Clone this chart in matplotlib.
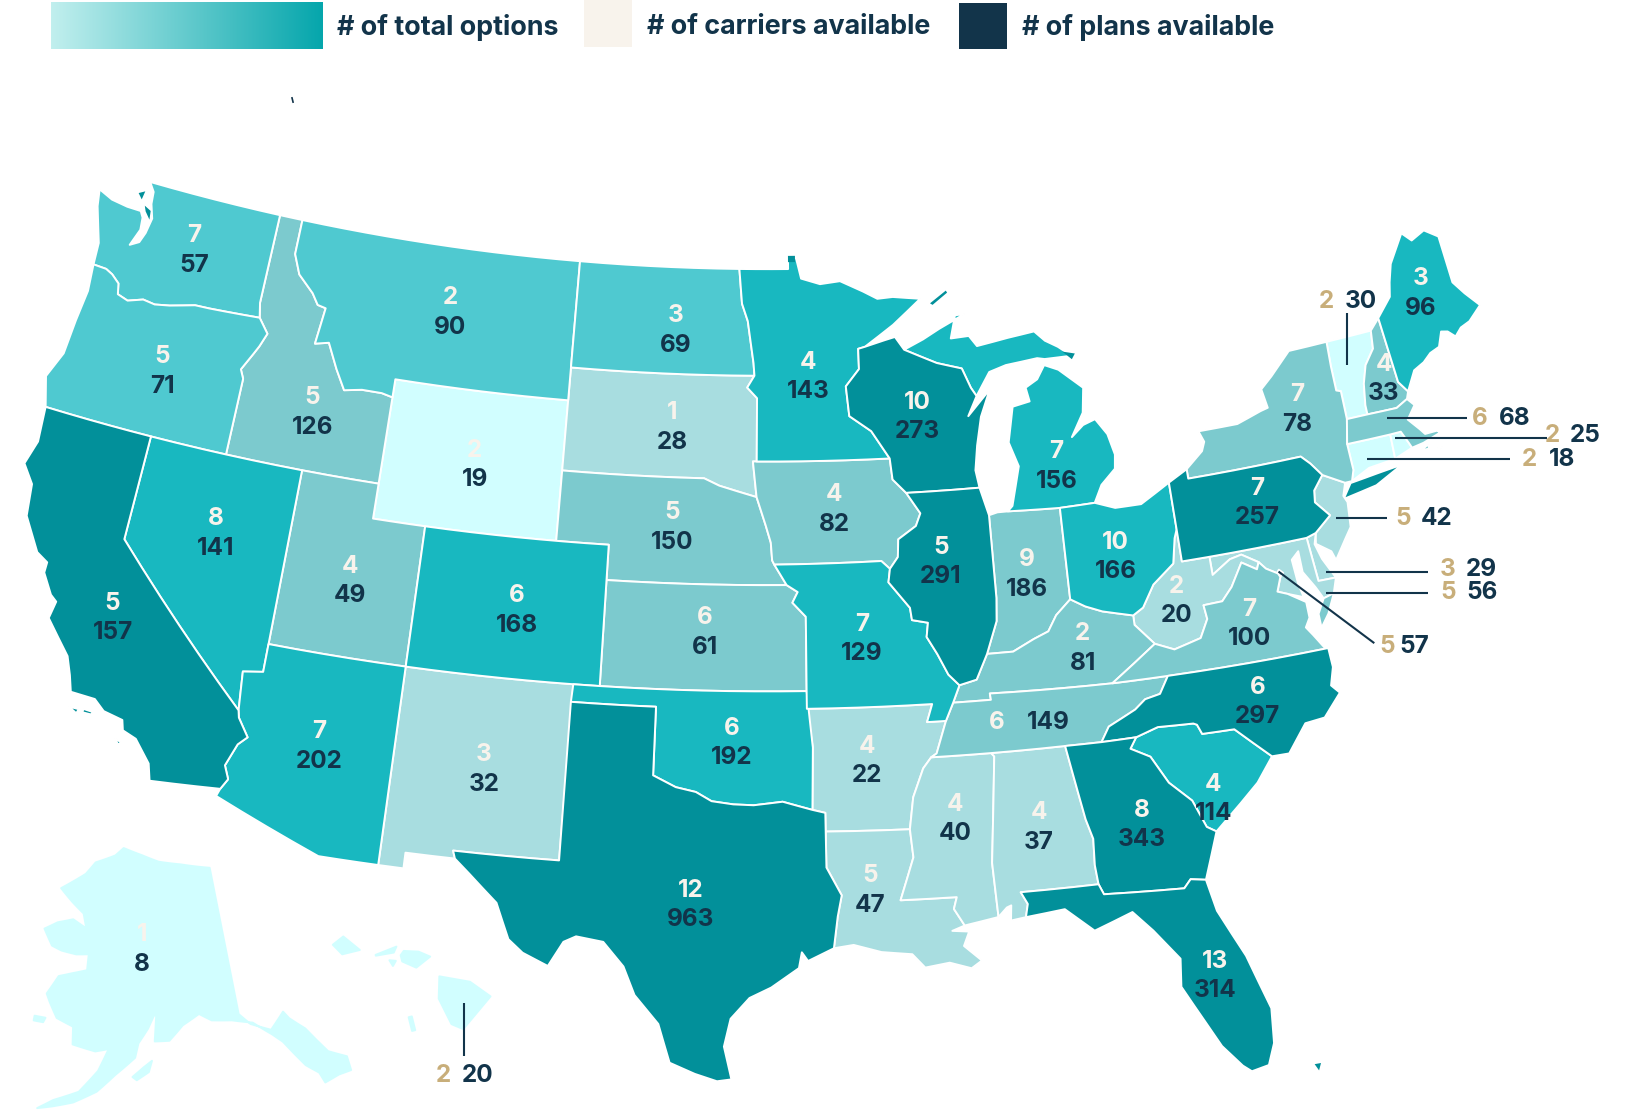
#!/usr/bin/env python
import numpy as np
import matplotlib
matplotlib.use('Agg')
import matplotlib.pyplot as plt
from matplotlib.colors import LinearSegmentedColormap

plt.rcParams['font.family'] = ['Inter', 'DejaVu Sans']

# shared borders, lon/lat
COLUMBIA = [(-124.05,46.27),(-123.5,46.25),(-123.2,46.15),(-122.85,45.95),(-122.75,45.65),(-122.3,45.55),(-121.7,45.7),(-121.2,45.65),(-120.6,45.73),(-119.6,45.92),(-119.0,45.93),(-116.92,46.0)]
SNAKE = [(-116.92,46.0),(-116.47,45.6),(-116.68,45.2),(-116.85,44.95),(-117.2,44.45),(-117.03,44.2),(-117.03,42.0)]
BITTERROOT = [(-116.05,49.0),(-116.05,48.0),(-115.7,47.45),(-115.0,47.0),(-114.7,46.7),(-114.35,46.65),(-114.5,45.6),(-113.95,45.7),(-113.45,45.0),(-113.0,44.45),(-112.3,44.55),(-111.5,44.55),(-111.05,44.48)]
COLORADO_R = [(-114.63,35.0),(-114.57,34.8),(-114.14,34.3),(-114.43,34.05),(-114.72,33.4),(-114.52,33.03),(-114.72,32.72)]
RED_R = [(-100.0,34.56),(-99.2,34.25),(-98.5,34.13),(-97.95,33.88),(-97.2,33.8),(-96.5,33.78),(-95.5,33.88),(-94.48,33.64)]
SABINE = [(-94.04,33.02),(-94.04,32.0),(-93.55,31.2),(-93.7,30.6),(-93.85,29.7)]
RED_N = [(-97.23,49.0),(-97.1,48.0),(-96.85,47.5),(-96.6,46.3),(-96.56,45.94)]
MISSOURI_R = [(-96.45,42.49),(-96.1,41.7),(-95.9,41.2),(-95.85,40.7),(-95.77,40.58)]
MS_UPPER = [(-91.22,43.5),(-91.15,42.9),(-90.65,42.5),(-90.15,41.9),(-90.35,41.55),(-91.05,41.2),(-91.1,40.7),(-91.42,40.38)]
MS_MID = [(-91.42,40.38),(-91.5,40.0),(-90.75,39.25),(-90.7,38.9),(-90.12,38.8),(-90.2,38.4),(-89.85,37.9),(-89.5,37.3),(-89.13,36.98)]
MS_TN = [(-89.4,36.5),(-89.7,36.0),(-90.1,35.1),(-90.3,35.0)]
MS_LOW = [(-90.3,35.0),(-90.6,34.7),(-91.0,33.9),(-91.17,33.0),(-91.1,32.2),(-91.6,31.0)]
OHIO_R = [(-89.13,36.98),(-88.5,37.1),(-88.05,37.8),(-87.1,37.8),(-86.3,38.1),(-85.75,38.27),(-85.4,38.7),(-84.82,39.1),(-84.3,38.85),(-83.7,38.65),(-82.6,38.42),(-82.2,38.6),(-81.7,39.2),(-80.85,39.7),(-80.65,40.4),(-80.52,40.64)]
POTOMAC = [(-79.48,39.2),(-78.75,39.55),(-78.3,39.62),(-77.72,39.32),(-77.5,39.1),(-77.1,38.9),(-77.04,38.79),(-77.25,38.4),(-76.9,38.28)]
WV_VA = [(-81.97,37.54),(-81.3,37.3),(-80.3,37.5),(-79.95,38.0),(-80.0,38.4),(-79.3,38.42),(-78.87,38.77),(-78.35,39.4),(-77.83,39.13),(-77.72,39.32)]
NC_TN = [(-81.68,36.59),(-82.05,36.12),(-82.6,36.03),(-83.0,35.78),(-84.0,35.4),(-84.32,34.99)]
SAVANNAH = [(-83.1,35.0),(-83.35,34.7),(-82.7,34.4),(-82.2,33.6),(-81.5,33.0),(-81.15,32.2),(-80.85,32.03)]
NC_SC = [(-83.1,35.0),(-82.3,35.2),(-81.05,35.15),(-80.93,35.1),(-80.8,34.82),(-79.67,34.8),(-78.55,33.86)]
AL_GA = [(-85.6,35.0),(-85.18,32.87),(-85.0,32.3),(-85.05,31.55),(-85.0,31.0)]
WI_MN = [(-92.01,46.71),(-92.29,46.66),(-92.29,46.08),(-92.85,45.6),(-92.75,44.75),(-91.9,44.3),(-91.22,43.5)]
WI_UP = [(-90.4,46.57),(-89.1,46.13),(-88.1,45.92),(-87.8,45.35),(-87.6,45.1)]
CT_RIVER = [(-71.5,45.01),(-71.6,44.5),(-72.05,44.1),(-72.3,43.6),(-72.45,43.0),(-72.46,42.73)]
NY_VT = [(-73.34,45.01),(-73.4,44.3),(-73.42,43.6),(-73.25,43.55),(-73.28,42.74)]
DELAWARE_R = [(-75.35,42.0),(-75.05,41.75),(-74.7,41.36),(-75.13,40.98),(-75.2,40.65),(-74.75,40.2),(-75.42,39.8)]

WA = [(-117.03,49.0),(-122.76,49.0),(-122.5,48.75),(-122.45,48.4),(-122.25,48.0),(-122.35,47.55),(-122.5,47.25),(-122.85,47.1),(-122.6,47.6),(-122.65,47.95),(-122.8,48.12),(-123.4,48.13),(-124.1,48.2),(-124.73,48.38),(-124.6,47.9),(-124.3,47.3),(-124.1,46.9)] + COLUMBIA + [(-117.04,46.42)]
OR = COLUMBIA[::-1] + [(-123.95,45.5),(-124.07,44.6),(-124.15,43.6),(-124.55,42.84),(-124.21,42.0)] + SNAKE[::-1]
CA = [(-124.21,42.0),(-120.0,42.0),(-120.0,39.0)] + COLORADO_R + [(-117.12,32.53),(-117.28,33.0),(-117.9,33.6),(-118.4,33.75),(-118.5,34.03),(-119.2,34.15),(-119.6,34.42),(-120.47,34.45),(-120.65,34.9),(-120.9,35.4),(-121.9,36.3),(-121.8,36.8),(-122.05,36.95),(-122.5,37.5),(-122.5,37.8),(-122.95,38.0),(-123.7,38.9),(-123.85,39.8),(-124.35,40.3),(-124.1,41.0)]
CA_ISLES = [[(-119.9,34.07),(-119.55,34.05),(-119.6,33.97),(-119.9,33.97)],[(-118.6,33.48),(-118.35,33.4),(-118.45,33.33)],[(-120.4,34.03),(-120.05,34.03),(-120.1,33.9)]]
NV = [(-120.0,42.0),(-114.04,42.0),(-114.04,36.2),(-114.75,36.1),(-114.63,35.0),(-120.0,39.0)]
ID = [(-117.03,49.0)] + BITTERROOT + [(-111.05,42.0)] + SNAKE[::-1] + [(-117.04,46.42)]
MT = BITTERROOT[::-1] + [(-104.05,49.0),(-104.05,45.0),(-111.05,45.0)]
WY = [(-111.05,45.0),(-104.05,45.0),(-104.05,41.0),(-111.05,41.0)]
UT = [(-114.04,42.0),(-111.05,42.0),(-111.05,41.0),(-109.05,41.0),(-109.05,37.0),(-114.04,37.0)]
CO = [(-109.05,41.0),(-102.05,41.0),(-102.05,37.0),(-109.05,37.0)]
AZ = [(-114.04,37.0),(-109.05,37.0),(-109.05,31.33),(-111.07,31.33),(-114.81,32.5)] + COLORADO_R[::-1] + [(-114.75,36.1),(-114.04,36.2)]
NM = [(-109.05,37.0),(-103.0,37.0),(-103.04,32.0),(-106.62,32.0),(-106.53,31.78),(-108.2,31.78),(-108.2,31.33),(-109.05,31.33)]
ND = [(-104.05,49.0)] + RED_N + [(-104.05,45.94)]
SD = [(-104.05,45.94),(-96.56,45.94),(-96.85,45.6),(-96.45,45.3),(-96.45,43.5),(-96.6,43.5),(-96.45,42.49),(-97.9,42.8),(-98.5,43.0),(-104.05,43.0)]
NE = [(-104.05,43.0),(-98.5,43.0),(-97.9,42.8)] + MISSOURI_R + [(-95.31,40.0),(-102.05,40.0),(-102.05,41.0),(-104.05,41.0)]
KS = [(-102.05,40.0),(-95.31,40.0),(-94.9,39.8),(-95.1,39.5),(-94.61,39.1),(-94.62,37.0),(-102.05,37.0)]
OK = [(-103.0,37.0),(-94.62,37.0),(-94.43,35.4)] + RED_R[::-1] + [(-100.0,36.5),(-103.04,36.5)]
TX = [(-106.62,32.0),(-103.04,32.0),(-103.04,36.5),(-100.0,36.5)] + RED_R + [(-94.04,33.55)] + SABINE + [(-94.7,29.35),(-94.9,29.6),(-95.0,29.15),(-95.9,28.6),(-96.6,28.3),(-97.2,27.7),(-97.4,26.9),(-97.15,25.96),(-97.6,25.9),(-98.3,26.1),(-99.1,26.4),(-99.5,27.5),(-100.3,28.3),(-100.7,29.1),(-101.4,29.77),(-102.3,29.88),(-102.7,29.7),(-103.15,28.98),(-104.0,29.3),(-104.5,29.65),(-105.0,30.65),(-106.0,31.4),(-106.53,31.78)]
MN = [(-97.23,49.0),(-95.15,49.0),(-95.15,49.38),(-94.8,49.3),(-94.6,48.72),(-93.8,48.55),(-92.95,48.62),(-92.0,48.3),(-91.4,48.07),(-90.75,48.1),(-89.6,48.0),(-90.8,47.3)] + WI_MN + [(-96.45,43.5),(-96.45,45.3),(-96.85,45.6),(-96.56,45.94),(-96.6,46.3),(-96.85,47.5),(-97.1,48.0)]
IA = [(-96.45,43.5)] + MS_UPPER + [(-91.73,40.61),(-95.77,40.58)] + MISSOURI_R[::-1][1:] + [(-96.6,43.5)]
MO = [(-95.77,40.58),(-91.73,40.61)] + MS_MID + MS_TN[:2] + [(-90.37,36.0),(-90.15,36.5),(-94.62,36.5),(-94.62,37.0),(-94.61,39.1),(-95.1,39.5),(-94.9,39.8),(-95.31,40.0)]
AR = [(-94.62,36.5),(-90.15,36.5),(-90.37,36.0),(-89.7,36.0)] + MS_TN[2:] + MS_LOW[1:4] + [(-94.04,33.02),(-94.04,33.55),(-94.48,33.64),(-94.43,35.4)]
LA = [(-94.04,33.02)] + MS_LOW[3:] + [(-89.73,31.0),(-89.85,30.67),(-89.53,30.18),(-89.95,30.05),(-89.4,30.0),(-89.6,29.6),(-89.05,29.15),(-89.4,28.95),(-90.1,29.15),(-90.9,29.05),(-91.3,29.45),(-91.8,29.5),(-92.3,29.55),(-93.2,29.78)] + SABINE[::-1]
MS = MS_LOW + [(-89.73,31.0),(-89.85,30.67),(-89.53,30.18),(-88.4,30.35),(-88.47,31.9),(-88.1,34.9),(-88.2,35.0)]
AL = [(-88.2,35.0)] + AL_GA + [(-87.6,31.0),(-87.4,30.65),(-87.5,30.28),(-88.0,30.22),(-87.95,30.65),(-88.1,30.6),(-88.4,30.35),(-88.47,31.9),(-88.1,34.9)]
TN = MS_TN + [(-88.2,35.0),(-85.6,35.0)] + NC_TN[::-1] + [(-83.68,36.6),(-88.07,36.68),(-88.05,36.5)]
KY = [(-89.4,36.5)] + OHIO_R[:11] + [(-82.6,38.15),(-81.97,37.54),(-83.68,36.6),(-88.07,36.68),(-88.05,36.5)]
IL = MS_UPPER[::-1][:6] + [(-87.8,42.5),(-87.53,41.7),(-87.53,39.35),(-87.6,38.7)] + OHIO_R[2::-1] + MS_MID[::-1][1:]
WI = [(-92.01,46.71),(-91.2,46.87),(-90.75,46.95)] + WI_UP + [(-88.0,44.55),(-87.05,45.25),(-87.5,44.5),(-87.75,43.7),(-87.9,43.0),(-87.8,42.5),(-90.65,42.5),(-91.15,42.9)] + WI_MN[::-1][:-1]
IN = [(-87.53,41.7),(-87.2,41.76),(-86.8,41.76),(-84.8,41.7)] + OHIO_R[7:1:-1] + [(-87.6,38.7),(-87.53,39.35)]
OH = [(-84.8,41.7),(-83.45,41.72),(-82.7,41.5),(-81.7,41.5),(-80.52,41.98)] + OHIO_R[:6:-1]
MI_L = [(-86.8,41.76),(-84.8,41.7),(-83.45,41.72),(-83.1,42.2),(-82.5,42.6),(-82.42,43.0),(-82.6,43.6),(-83.0,44.07),(-83.5,43.95),(-84.0,43.65),(-83.45,44.3),(-83.3,45.0),(-84.2,45.6),(-84.75,45.78),(-85.1,45.4),(-85.6,45.2),(-85.5,44.8),(-86.2,44.7),(-86.5,43.7),(-86.2,43.0),(-86.6,41.9)]
MI_U = WI_UP + [(-87.0,45.75),(-86.3,45.9),(-85.0,46.0),(-84.7,45.95),(-83.6,45.95),(-84.1,46.25),(-84.6,46.47),(-85.0,46.77),(-86.1,46.67),(-87.4,46.52),(-87.7,46.83),(-88.45,46.8),(-88.2,47.45),(-87.8,47.47),(-88.9,47.1),(-89.6,46.83)]
PA = [(-80.52,41.98),(-79.76,42.27),(-79.76,42.0)] + DELAWARE_R + [(-75.79,39.72),(-80.52,39.72),(-80.52,40.64)]
NY = [(-79.76,42.27),(-79.05,42.7),(-78.9,42.95),(-79.05,43.27),(-77.5,43.27),(-76.5,43.5),(-76.2,43.55),(-76.3,44.1),(-75.8,44.4),(-74.9,45.0)] + NY_VT + [(-73.5,42.05),(-73.5,41.3),(-73.65,41.0),(-73.92,41.0),(-74.7,41.36),(-75.05,41.75),(-75.35,42.0),(-79.76,42.0)]
NJ = [(-74.7,41.36),(-73.92,41.0),(-74.1,40.65),(-74.0,40.45),(-74.1,39.75),(-74.4,39.45),(-74.9,38.93),(-75.0,39.2),(-75.5,39.5),(-75.42,39.8),(-74.75,40.2),(-75.2,40.65),(-75.13,40.98)]
VT = NY_VT[:1] + CT_RIVER + NY_VT[:0:-1]
NH = [(-71.5,45.01),(-71.08,45.3),(-70.98,43.4),(-70.7,43.07),(-70.82,42.87),(-71.3,42.7)] + CT_RIVER[::-1][:-1]
ME = [(-71.08,45.3),(-70.4,45.8),(-70.25,46.2),(-70.0,46.7),(-69.23,47.46),(-68.9,47.18),(-68.3,47.36),(-67.79,47.07),(-67.79,45.7),(-67.45,45.3),(-67.0,44.85),(-67.6,44.5),(-68.0,44.4),(-68.3,44.2),(-68.55,44.4),(-68.8,44.45),(-69.05,44.05),(-69.45,43.95),(-69.8,43.75),(-70.25,43.6),(-70.7,43.07),(-70.98,43.4)]
MA = [(-73.5,42.05),(-73.28,42.74),(-72.46,42.73),(-71.3,42.7),(-70.82,42.87),(-70.6,42.65),(-71.0,42.3),(-70.65,41.95),(-70.5,41.78),(-70.0,41.78),(-70.2,42.08),(-69.95,41.7),(-70.65,41.55),(-71.12,41.5),(-71.2,41.67),(-71.38,42.02),(-71.8,42.02)]
MA_ISLES = [[(-70.8,41.36),(-70.5,41.47),(-70.5,41.35)],[(-70.2,41.3),(-70.0,41.3),(-70.05,41.24)]]
RI = [(-71.8,42.02),(-71.38,42.02),(-71.2,41.67),(-71.12,41.5),(-71.85,41.32)]
CT = [(-73.5,42.05),(-71.8,42.02),(-71.85,41.32),(-72.9,41.25),(-73.65,41.0),(-73.5,41.3)]
DE = [(-75.79,39.72),(-75.42,39.8),(-75.55,39.5),(-75.4,39.05),(-75.05,38.45),(-75.7,38.46)]
MD = [(-79.48,39.72),(-75.79,39.72),(-75.7,38.46),(-75.05,38.45),(-75.25,38.03),(-75.65,37.95),(-75.85,38.3),(-76.2,38.8),(-76.2,39.4),(-76.5,39.2),(-76.45,38.5),(-76.35,38.1)] + POTOMAC[::-1]
DC = [(-77.12,38.93),(-77.04,39.0),(-76.91,38.89),(-77.04,38.79)]
VA = [(-83.68,36.6)] + WV_VA + POTOMAC[4:] + [(-76.3,37.95),(-76.3,37.5),(-76.5,37.25),(-76.3,37.0),(-75.97,36.55),(-81.68,36.59)]
VA_SHORE = [(-75.65,37.95),(-75.25,38.03),(-75.6,37.5),(-75.95,37.15),(-75.95,37.55)]
WV = [(-82.6,38.42),(-82.2,38.6),(-81.7,39.2),(-80.85,39.7),(-80.65,40.4),(-80.52,40.64),(-80.52,39.72),(-79.48,39.72)] + POTOMAC[:3] + WV_VA[::-1] + [(-82.6,38.15)]
NC = NC_TN + NC_SC + [(-77.95,33.85),(-77.2,34.6),(-76.5,34.65),(-75.8,35.25),(-76.05,35.5),(-75.85,36.0),(-75.87,36.55)]
SC = NC_SC + [(-79.2,33.2),(-79.9,32.7)] + SAVANNAH[::-1]
GA = [(-85.6,35.0),(-84.32,34.99)] + SAVANNAH + [(-81.45,30.72),(-81.95,30.8),(-82.2,30.57),(-84.86,30.7)] + AL_GA[:0:-1]
FL = [(-87.6,31.0),(-85.0,31.0),(-84.86,30.7),(-82.2,30.57),(-81.95,30.8),(-81.45,30.72),(-81.25,29.8),(-80.55,28.4),(-80.03,26.8),(-80.13,25.8),(-80.4,25.2),(-80.95,25.1),(-81.2,25.3),(-81.75,25.95),(-82.15,26.7),(-82.75,27.8),(-82.65,28.6),(-83.4,29.5),(-84.0,30.1),(-85.3,29.7),(-86.2,30.4),(-87.5,30.28),(-87.4,30.65)]
AK = [(-141.0,69.65),(-141.0,60.3),(-139.8,59.55),(-137.5,58.9),(-135.5,59.8),(-135.0,59.3),(-133.5,58.4),(-131.8,56.6),(-130.0,55.9),(-130.1,55.0),(-131.5,55.0),(-133.2,54.8),(-133.5,55.5),(-134.7,56.2),(-136.5,58.0),(-137.5,58.6),(-139.5,59.6),(-142.0,60.0),(-144.5,60.2),(-146.0,60.7),(-148.2,60.1),(-150.0,59.2),(-151.8,59.2),(-151.5,60.8),(-149.9,61.25),(-151.8,60.8),(-152.6,60.0),(-153.8,59.1),(-154.2,58.2),(-156.5,57.1),(-158.5,56.0),(-161.0,55.2),(-163.2,54.8),(-164.8,54.55),(-163.2,55.2),(-160.5,55.9),(-158.5,57.3),(-157.4,58.7),(-159.0,58.5),(-161.8,58.8),(-162.0,59.9),(-164.2,60.3),(-165.4,61.2),(-166.0,61.7),(-164.8,62.9),(-163.0,63.2),(-161.0,63.5),(-161.0,64.5),(-162.8,64.4),(-165.0,64.5),(-166.5,64.7),(-168.1,65.65),(-166.3,66.2),(-164.0,66.55),(-161.8,66.1),(-162.5,67.0),(-164.5,67.6),(-166.8,68.35),(-165.0,68.9),(-163.0,69.5),(-161.5,70.3),(-158.0,70.85),(-156.5,71.35),(-153.0,70.9),(-150.0,70.45),(-146.0,70.15)]
AK_ISLES = [[(-154.5,57.0),(-153.2,57.6),(-152.2,58.0),(-152.6,57.3),(-154.0,56.8)],[(-167.0,60.2),(-165.6,60.2),(-165.8,59.9),(-167.0,59.9)]]
HI = [(-155.9,20.25),(-155.2,19.95),(-154.8,19.5),(-155.65,18.92),(-155.9,19.1),(-156.05,19.75)]
HI_ISLES = [[(-156.7,20.95),(-156.6,21.03),(-156.25,20.93),(-156.0,20.75),(-156.4,20.58),(-156.7,20.8)],[(-157.3,21.1),(-156.75,21.17),(-156.85,21.05),(-157.3,21.08)],[(-158.27,21.57),(-157.97,21.7),(-157.65,21.3),(-158.1,21.3)],[(-157.0,20.9),(-156.85,20.85),(-156.95,20.75)],[(-156.88,19.5),(-156.8,19.5),(-156.8,19.17),(-156.88,19.17)]]
# small islands that the source leaves in the darkest shade
LONG_ISLAND = [(-74.03,40.6),(-72.8,40.75),(-71.87,41.07),(-72.6,41.02),(-73.7,40.93)]
ISLE_ROYALE = [(-89.2,47.85),(-88.5,48.18),(-88.45,48.12),(-89.1,47.8)]
SAN_JUAN = [(-123.1,48.6),(-122.85,48.7),(-122.9,48.45)]
WHIDBEY = [(-122.7,48.3),(-122.4,48.2),(-122.35,47.95),(-122.6,48.15)]
NW_ANGLE = [(-95.15,49.38),(-94.85,49.38),(-94.85,49.2),(-95.15,49.2)]
DRUMMOND = [(-83.95,46.1),(-83.45,46.0),(-83.6,45.85)]
FAR_KEY = [(-79.0,25.0),(-78.8,25.0),(-78.9,24.8)]

# values
SHADES = ['#D1FEFF', '#A8DDE0', '#7CCACE', '#4FC9D0', '#18B8C0', '#02909A']
SHADE_GROUPS = [
    ['WY', 'VT', 'CT', 'RI', 'AK', 'HI'],
    ['SD', 'NM', 'AR', 'LA', 'MS', 'AL', 'NJ', 'DE', 'MD', 'DC', 'WV'],
    ['ID', 'UT', 'NE', 'KS', 'IA', 'IN', 'KY', 'TN', 'VA', 'NY', 'NH', 'MA'],
    ['WA', 'OR', 'MT', 'ND'],
    ['NV', 'CO', 'AZ', 'OK', 'MO', 'MN', 'MI', 'OH', 'SC', 'ME'],
    ['CA', 'TX', 'WI', 'IL', 'PA', 'NC', 'GA', 'FL'],
]
OUTLINES = {'WA': [WA], 'OR': [OR], 'CA': [CA] + CA_ISLES, 'NV': [NV], 'ID': [ID], 'MT': [MT], 'WY': [WY], 'UT': [UT], 'CO': [CO], 'AZ': [AZ], 'NM': [NM],
            'ND': [ND], 'SD': [SD], 'NE': [NE], 'KS': [KS], 'OK': [OK], 'TX': [TX], 'MN': [MN], 'IA': [IA], 'MO': [MO], 'AR': [AR], 'LA': [LA], 'MS': [MS],
            'AL': [AL], 'TN': [TN], 'KY': [KY], 'IL': [IL], 'WI': [WI], 'IN': [IN], 'OH': [OH], 'MI': [MI_L, MI_U], 'PA': [PA], 'NY': [NY], 'NJ': [NJ], 'VT': [VT],
            'NH': [NH], 'ME': [ME], 'MA': [MA] + MA_ISLES, 'RI': [RI], 'CT': [CT], 'DE': [DE], 'MD': [MD], 'DC': [DC], 'VA': [VA, VA_SHORE], 'WV': [WV], 'NC': [NC], 'SC': [SC],
            'GA': [GA], 'FL': [FL], 'AK': [AK] + AK_ISLES, 'HI': [HI] + HI_ISLES}

IN_CARRIERS = [7, 5, 5, 8, 5, 2, 2, 4, 6, 7, 3, 3, 1, 5, 6, 6, 12, 4, 4, 7, 4, 5, 10, 5, 7, 9, 10, 2, 4, 4, 8, 13, 4, 6, 7, 2, 7, 7, 3, 4, 1]
IN_PLANS = [57, 71, 157, 141, 126, 90, 19, 49, 168, 202, 32, 69, 28, 150, 61, 192, 963, 143, 82, 129, 22, 47, 273, 291, 156, 186, 166, 81, 40, 37, 343, 314, 114, 297, 100, 20, 257, 78, 96, 33, 8]
IN_X = [185, 154, 107, 205, 297, 428, 451, 333, 491, 303, 460, 642, 639, 639, 670, 695, 656, 768, 793, 819, 824, 827, 872, 894, 1004, 976, 1060, 1029, 908, 987, 1085, 1155, 1153, 1195, 1187, 1118, 1195, 1233, 1350, 1315, 135]
IN_Y = [222, 337, 571, 491, 376, 281, 426, 536, 564, 693, 715, 298, 390, 485, 585, 690, 844, 342, 468, 591, 707, 830, 380, 518, 427, 530, 513, 600, 762, 770, 768, 911, 743, 651, 577, 555, 462, 373, 263, 344, 886]

OUT_CARRIERS = [2, 6, 2, 2, 5, 3, 5, 5, 2]
OUT_PLANS = [30, 68, 25, 18, 42, 29, 56, 57, 20]
OUT_CARRIER_X = [1260, 1406, 1475, 1453, 1333, 1376, 1376, 1318, 421]
OUT_PLAN_X = [1293, 1439, 1506, 1484, 1365, 1408, 1408, 1344, 454]
OUT_Y = [284, 396, 412, 435, 491, 539, 561, 612, 1020]
LEADER_X = [(1280, 1280), (1318, 1394), (1326, 1470), (1299, 1435), (1270, 1318), (1260, 1357), (1260, 1357), (1215, 1306), (441, 441)]
LEADER_Y = [(297, 347), (397, 397), (416, 416), (436, 436), (492, 492), (543, 543), (563, 563), (543, 611), (953, 1003)]

TN_CARRIERS, TN_PLANS = 6, 149

LEGEND_TEXT = ['# of total options', '# of carriers available', '# of plans available']

NAVY = '#12344A'
TAN = '#C8AE7A'
CREAM = '#F8F3EC'


def conic(lon, lat, lon0, p1, p2, lat0):
    lon, lat = np.radians(lon), np.radians(lat)
    s1, s2 = np.sin(np.radians(p1)), np.sin(np.radians(p2))
    n = (s1 + s2) / 2
    c = np.cos(np.radians(p1)) ** 2 + 2 * n * s1
    rho = np.sqrt(c - 2 * n * np.sin(lat)) / n
    rho0 = np.sqrt(c - 2 * n * np.sin(np.radians(lat0))) / n
    theta = n * (lon - np.radians(lon0))
    return rho * np.sin(theta), rho0 - rho * np.cos(theta)


def densify(pts):
    # straight lon/lat edges have to bend once projected
    out = []
    for a, b in zip(pts, pts[1:] + pts[:1]):
        n = int(max(abs(a[0] - b[0]), abs(a[1] - b[1]))) + 1
        out += [(a[0] + (b[0] - a[0]) * i / n, a[1] + (b[1] - a[1]) * i / n) for i in range(n)]
    return out


def project(state, pts):
    lon, lat = np.array(densify(pts)).T
    if state == 'AK':
        x, y = conic(lon, lat, -154, 55, 65, 62)
        return 130 + x * 870, 947 - y * 870
    if state == 'HI':
        x, y = conic(lon, lat, -157, 8, 18, 20.5)
        a = np.radians(14)
        x, y = x * np.cos(a) - y * np.sin(a), x * np.sin(a) + y * np.cos(a)
        return 374 + x * 2340, 928 - y * 2340
    x, y = conic(lon, lat, -96, 29.5, 45.5, 37.5)
    return 730 + x * 1918, 640 - y * 1909


def number(ax, x, y, s, color):
    ax.text(x, y + 2, str(s), color=color, fontsize=17.5, fontweight='bold', ha='center', va='center')


fig = plt.figure(figsize=(16.5, 11.2), dpi=100)
ax = fig.add_axes([0, 0, 1, 1])

# legend
cmap = LinearSegmentedColormap.from_list('options', ['#C1EFEE', '#05A6AC'])
ax.imshow(np.linspace(0, 1, 256)[None, :], cmap=cmap, extent=(48, 306, 47, 3), aspect='auto')
ax.fill_between([555, 601], 0, 45, color=CREAM, lw=0)
ax.fill_between([911, 957], 3, 47, color=NAVY, lw=0)
for x, s in zip([320, 615, 971], LEGEND_TEXT):
    ax.text(x, 26, s, color=NAVY, fontsize=19.35, fontweight='bold', ha='left', va='center')
ax.plot([277.5, 278.5], [93, 97], color=NAVY, lw=1.2)

for shade, group in zip(SHADES, SHADE_GROUPS):
    for state in group:
        for pts in OUTLINES[state]:
            x, y = project(state, pts)
            edge = shade if state in ('AK', 'HI') else 'white'
            ax.fill(x, y, facecolor=shade, edgecolor=edge, lw=1.4, joinstyle='round')

for pts in [LONG_ISLAND, ISLE_ROYALE, SAN_JUAN, WHIDBEY, NW_ANGLE, DRUMMOND, FAR_KEY]:
    x, y = project('NY', pts)
    ax.fill(x, y, facecolor=SHADES[5], edgecolor='none')

for c, p, x, y in zip(IN_CARRIERS, IN_PLANS, IN_X, IN_Y):
    number(ax, x, y, c, CREAM)
    number(ax, x, y + 28, p, NAVY)
number(ax, 947, 684, TN_CARRIERS, CREAM)
number(ax, 996, 684, TN_PLANS, NAVY)

for lx, ly in zip(LEADER_X, LEADER_Y):
    ax.plot(lx, ly, color=NAVY, lw=1.5, solid_capstyle='butt')
for c, p, cx, px, y in zip(OUT_CARRIERS, OUT_PLANS, OUT_CARRIER_X, OUT_PLAN_X, OUT_Y):
    number(ax, cx, y, c, TAN)
    number(ax, px, y, p, NAVY)

ax.set_xlim(0, 1568)
ax.set_ylim(1064, 0)
ax.axis('off')
fig.savefig('out.png', dpi=100, facecolor='white')
